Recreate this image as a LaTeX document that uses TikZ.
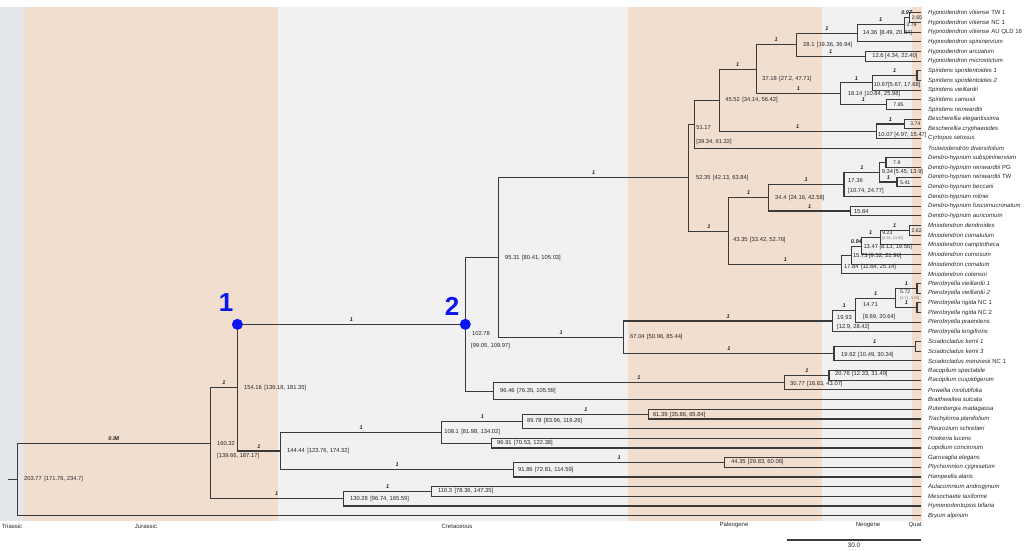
\documentclass[tikz,border=0pt]{standalone}
\usepackage{fontspec}
\setmainfont{Liberation Sans}
\usetikzlibrary{calc}
\definecolor{peach}{HTML}{F2DECF}
\definecolor{crgray}{HTML}{F1F1F1}
\definecolor{trgray}{HTML}{E3E7EB}
\definecolor{brc}{HTML}{3A3A3A}
\definecolor{txt}{HTML}{262626}
\definecolor{dotblue}{HTML}{0A14F0}
\newcommand\rg{\hspace{2.4pt}}
\newcommand\clade[4]{%
  \path let \p1=($(#3)!0.5!(#4)$) in (#2,\y1) coordinate (#1);%
  \draw[br] (#3) -- (#1 |- #3) -- (#1 |- #4) -- (#4);}
\newcommand\spp[3]{\path (#1 |- #2) -- node[suplab] (s-#2) {#3} (#2);}
\newcommand\nl[4][]{\node[nlab,xshift=#3,#1] (l-#2) at (#2) {#4};}
\newcommand\nlb[4][]{\node[nlab,xshift=#3,#1] (m-#2) at (#2) {#4};}
\begin{document}
\begin{tikzpicture}[x=1pt,y=-1pt,
  br/.style={draw=brc,line width=1.1pt},
  tipl/.style={anchor=west,inner sep=0pt,xshift=7pt,text=txt,font=\fontsize{6}{7}\selectfont\itshape},
  nlab/.style={anchor=west,inner sep=0pt,text=txt,font=\fontsize{5.8}{6.5}\selectfont},
  sm/.style={font=\fontsize{5.2}{6}\selectfont},
  tinyr/.style={font=\fontsize{3.8}{4.2}\selectfont,text=black!55},
  suplab/.style={above=2.3pt,inner sep=0.4pt,text=txt,font=\fontsize{5.5}{6}\selectfont\bfseries\itshape},
  era/.style={inner sep=0pt,text=txt,font=\fontsize{6}{7}\selectfont},
  bignum/.style={inner sep=0pt,text=dotblue,font=\fontsize{26}{26}\selectfont\bfseries},
  bdot/.style={circle,fill=dotblue,minimum size=11pt,inner sep=0pt}]
\useasboundingbox (0,0) rectangle (1024,550);
% time bands
\fill[trgray] (0,7) rectangle (24,521);
\fill[peach] (24,7) rectangle (278,521);
\fill[crgray] (278,7) rectangle (628,521);
\fill[peach] (628,7) rectangle (822,521);
\fill[crgray] (822,7) rectangle (912,521);
\fill[peach] (912,7) rectangle (922,521);
% tips
\foreach \i in {1,...,53} \coordinate (t\i) at (921,{12.8+(\i-1)*9.67});
\foreach \i/\tn in {1/{Hypnodendron vitiense \textup{TW 1}},2/{Hypnodendron vitiense \textup{NC 1}},3/{Hypnodendron vitiense \textup{AU QLD 16}},4/{Hypnodendron spininervium},5/{Hypnodendron arcuatum},6/{Hypnodendron microstictum},7/{Spiridens spiridentoides 1},8/{Spiridens spiridentoides 2},9/{Spiridens vieillardii},10/{Spiridens camusii},11/{Spiridens reinwardtii},12/{Bescherellia elegantissima},13/{Bescherellia cryphaeoides},14/{Cyrtopus setosus},15/{Touwiodendron diversifolium},16/{Dendro-hypnum subspininervium},17/{Dendro-hypnum reinwardtii \textup{PG}},18/{Dendro-hypnum reinwardtii \textup{TW}},19/{Dendro-hypnum beccarii},20/{Dendro-hypnum milnei},21/{Dendro-hypnum fuscomucronatum},22/{Dendro-hypnum auricomum},23/{Mniodendron dendroides},24/{Mniodendron comatulum},25/{Mniodendron camptotheca},26/{Mniodendron comosum},27/{Mniodendron comatum},28/{Mniodendron colensoi},29/{Pterobryella vieillardii 1},30/{Pterobryella vieillardii 2},31/{Pterobryella rigida \textup{NC 1}},32/{Pterobryella rigida \textup{NC 2}},33/{Pterobryella praenitens},34/{Pterobryella longifrons},35/{Sciadocladus kerrii 1},36/{Sciadocladus kerrii 3},37/{Sciadocladus menziesii \textup{NC 1}},38/{Racopilum spectabile},39/{Racopilum cuspidigerum},40/{Powellia involutifolia},41/{Braithwaitea sulcata},42/{Rutenbergia madagassa},43/{Trachyloma planifolium},44/{Pleurozium schreberi},45/{Hookeria lucens},46/{Lopidium concinnum},47/{Garovaglia elegans},48/{Ptychomnion cygnisetum},49/{Hampeella alaris},50/{Aulacomnium androgynum},51/{Mesochaete taxiforme},52/{Hymenodontopsis bifaria},53/{Bryum alpinum}}
  \node[tipl] (tl\i) at (t\i) {\tn};
% clades
\clade{AT}{909.2}{t1}{t2}
\clade{AS}{904.2}{AT}{t3}
\clade{AQ}{857.3}{AS}{t4}
\clade{AR}{865.1}{t5}{t6}
\clade{AO}{796.4}{AQ}{AR}
\clade{AX}{917}{t7}{t8}
\clade{AV}{872.4}{AX}{t9}
\clade{AW}{886.2}{t10}{t11}
\clade{AP}{840.6}{AV}{AW}
\clade{AL}{756.1}{AO}{AP}
\clade{AN}{904.4}{t12}{t13}
\clade{AM}{876.3}{AN}{t14}
\clade{AK}{719.2}{AL}{AM}
\clade{X}{694.1}{AK}{t15}
\clade{AI}{886.0}{t16}{t17}
\clade{AJ}{897.0}{t18}{t19}
\clade{AH}{879.6}{AI}{AJ}
\clade{AF}{844.0}{AH}{t20}
\clade{AG}{850.8}{t21}{t22}
\clade{Z}{768.5}{AF}{AG}
\clade{AE}{909.4}{t23}{t24}
\clade{AD}{880.1}{AE}{t25}
\clade{AC}{861.3}{AD}{t26}
\clade{AB}{851.3}{AC}{t27}
\clade{AA}{841.9}{AB}{t28}
\clade{Y}{728.8}{Z}{AA}
\clade{O}{688.9}{X}{Y}
\clade{U}{917}{t29}{t30}
\clade{V}{917}{t31}{t32}
\clade{T}{895.6}{U}{V}
\clade{S}{855.8}{T}{t33}
\clade{Q}{832.6}{S}{t34}
\clade{W}{915.5}{t35}{t36}
\clade{R}{834.0}{W}{t37}
\clade{P}{623.7}{Q}{R}
\clade{K}{498.4}{O}{P}
\clade{NN}{829.0}{t38}{t39}
\clade{M}{784.6}{NN}{t40}
\clade{L}{493.3}{M}{t41}
\clade{N2}{465.3}{K}{L}
\clade{I}{648.8}{t42}{t43}
\clade{G}{522.9}{I}{t44}
\clade{H}{491.3}{t45}{t46}
\clade{D}{441.7}{G}{H}
\clade{J}{724.4}{t47}{t48}
\clade{E}{513.7}{J}{t49}
\clade{B}{280.6}{D}{E}
\clade{N1}{237.4}{N2}{B}
\clade{F}{431.9}{t50}{t51}
\clade{C}{343.3}{F}{t52}
\clade{A}{210.2}{N1}{C}
\clade{RT}{17.5}{A}{t53}
\coordinate (r0) at ($(RT)+(-9.5,0)$);
\draw[br] (RT) -- (r0);
% supports
\spp{RT}{A}{0.98}
\spp{A}{N1}{1}
\spp{A}{C}{1}
\spp{N1}{N2}{1}
\spp{N1}{B}{1}
\spp{B}{D}{1}
\spp{B}{E}{1}
\spp{C}{F}{1}
\spp{D}{G}{1}
\spp{G}{I}{1}
\spp{E}{J}{1}
\spp{L}{M}{1}
\spp{M}{NN}{1}
\spp{K}{O}{1}
\spp{K}{P}{1}
\spp{P}{Q}{1}
\spp{P}{R}{1}
\spp{Q}{S}{1}
\spp{S}{T}{1}
\spp{T}{U}{1}
\spp{T}{V}{1}
\spp{R}{W}{1}
\spp{O}{Y}{1}
\spp{Y}{Z}{1}
\spp{Y}{AA}{1}
\spp{Z}{AF}{1}
\spp{Z}{AG}{1}
\spp{AF}{AH}{1}
\spp{AH}{AJ}{1}
\spp{AB}{AC}{0.94}
\spp{AC}{AD}{1}
\spp{AD}{AE}{1}
\spp{AK}{AL}{1}
\spp{AK}{AM}{1}
\spp{AM}{AN}{1}
\spp{AL}{AO}{1}
\spp{AL}{AP}{1}
\spp{AP}{AV}{1}
\spp{AP}{AW}{1}
\spp{AV}{AX}{1}
\spp{AO}{AQ}{1}
\spp{AO}{AR}{1}
\spp{AQ}{AS}{1}
\spp{AS}{AT}{0.97}
% node ages
\nl{RT}{6.5pt}{203.77\rg[171.76, 234.7]}
\nl{A}{6.8pt}{160.32}
\nlb[yshift=-13pt]{A}{6.8pt}{[139.66, 187.17]}
\nl{N1}{6.6pt}{154.18\rg[136.18, 181.35]}
\nl{B}{6.4pt}{144.44\rg[123.76, 174.32]}
\nl{C}{6.7pt}{130.28\rg[96.74, 165.59]}
\nl{F}{6pt}{110.3\rg[78.36, 147.35]}
\nl{D}{2.5pt}{108.1\rg[81.98, 134.02]}
\nl{G}{4pt}{89.78\rg[83.96, 119.26]}
\nl[yshift=-1pt]{I}{4pt}{61.39\rg[35.86, 65.84]}
\nl{H}{5.7pt}{96.91\rg[70.53, 122.38]}
\nl{E}{4.3pt}{91.86\rg[72.81, 114.59]}
\nl{J}{6.6pt}{44.35\rg[29.83, 60.06]}
\nl[yshift=-9pt]{N2}{6.7pt}{102.78}
\nlb[yshift=-22pt]{N2}{5.7pt}{[99.05, 109.97]}
\nl{L}{6.7pt}{96.46\rg[76.35, 105.59]}
\nl[yshift=-1pt]{M}{5.4pt}{30.77\rg[18.83, 43.07]}
\nl[yshift=1pt]{NN}{6pt}{20.76\rg[12.33, 31.49]}
\nl{K}{6.6pt}{95.31\rg[80.41, 105.03]}
\nl{P}{6.3pt}{67.04\rg[50.96, 85.44]}
\nl[yshift=4pt]{Q}{4.4pt}{19.93}
\nlb[yshift=-6pt]{Q}{4.4pt}{[12.9, 28.42]}
\nl[yshift=6pt]{S}{7.2pt}{14.71}
\nlb[yshift=-7pt]{S}{7.2pt}{[8.69, 20.64]}
\nl[sm,yshift=6pt]{T}{4.4pt}{5.72}
\nlb[tinyr]{T}{4.4pt}{[2.71, 9.29]}
\nl[yshift=-1pt]{R}{7pt}{19.62\rg[10.49, 30.34]}
\nl{O}{7pt}{52.35\rg[42.13, 63.84]}
\nl[yshift=-3pt]{X}{2pt}{51.17}
\nlb[yshift=-18pt]{X}{2pt}{[39.34, 61.32]}
\nl[yshift=-9pt]{Y}{4.2pt}{43.35\rg[33.42, 52.76]}
\nl{Z}{6.5pt}{34.4\rg[24.16, 42.58]}
\nl[yshift=4pt]{AF}{4pt}{17.36}
\nlb[yshift=-7pt]{AF}{4pt}{[10.74, 24.77]}
\nl{AH}{2pt}{9.34\,[5.45, 13.9]}
\nl[sm]{AI}{7pt}{7.9}
\nl[sm,yshift=-1pt]{AJ}{3pt}{5.41}
\nl{AG}{3pt}{15.84}
\nl[yshift=-2pt]{AA}{2pt}{17.84\rg[11.64, 25.14]}
\nl[yshift=-1pt]{AB}{1.5pt}{15.73 [9.52, 21.96]}
\nl[yshift=-1pt]{AC}{2pt}{13.47 [8.13, 19.56]}
\nl[sm,yshift=4.5pt]{AD}{2pt}{9.23}
\nlb[tinyr,yshift=-1pt]{AD}{2pt}{[4.54, 13.92]}
\nl[sm]{AE}{2pt}{2.62}
\nl{AK}{6pt}{45.52\rg[34.14, 56.42]}
\nl[yshift=-10pt]{AL}{6pt}{37.18\rg[27.2, 47.71]}
\nl{AO}{6.6pt}{28.1\rg[19.36, 36.94]}
\nl{AQ}{5.4pt}{14.36\rg[8.49, 20.84]}
\nl{AR}{7pt}{12.6 [4.34, 22.40]}
\nl[sm]{AS}{2pt}{3.79}
\nl[sm]{AT}{2.5pt}{2.65}
\nl[yshift=-2pt]{AV}{1pt}{10.97[5.67, 17.68]}
\nl[sm]{AW}{7pt}{7.85}
\nl{AP}{7pt}{18.14\rg[10.84, 25.98]}
\nl[yshift=-4pt]{AM}{1.7pt}{10.07 [4.97, 15.47]}
\nl[sm]{AN}{5.6pt}{3.74}
% highlighted nodes
\node[bdot] (dot1) at (N1 |- N2) {};
\node[bdot] (dot2) at (N2) {};
\node[bignum] (num1) at (226,303) {1};
\node[bignum] (num2) at (452,306) {2};
% eras
\node[era] (e1) at (12,526) {Triassic};
\node[era] (e2) at (146,526) {Jurassic};
\node[era] (e3) at (457,526) {Cretaceous};
\node[era] (e4) at (734,525) {Paleogene};
\node[era] (e5) at (868,525) {Neogene};
\node[era] (e6) at (915,525) {Quat};
% scale bar
\coordinate (sb1) at (787,540);
\coordinate (sb2) at (921,540);
\draw[brc,line width=1.2pt] (sb1) -- node[below=2pt,inner sep=0pt,text=txt,font=\fontsize{6.5}{7}\selectfont] (sbl) {30.0} (sb2);
\end{tikzpicture}
\end{document}
